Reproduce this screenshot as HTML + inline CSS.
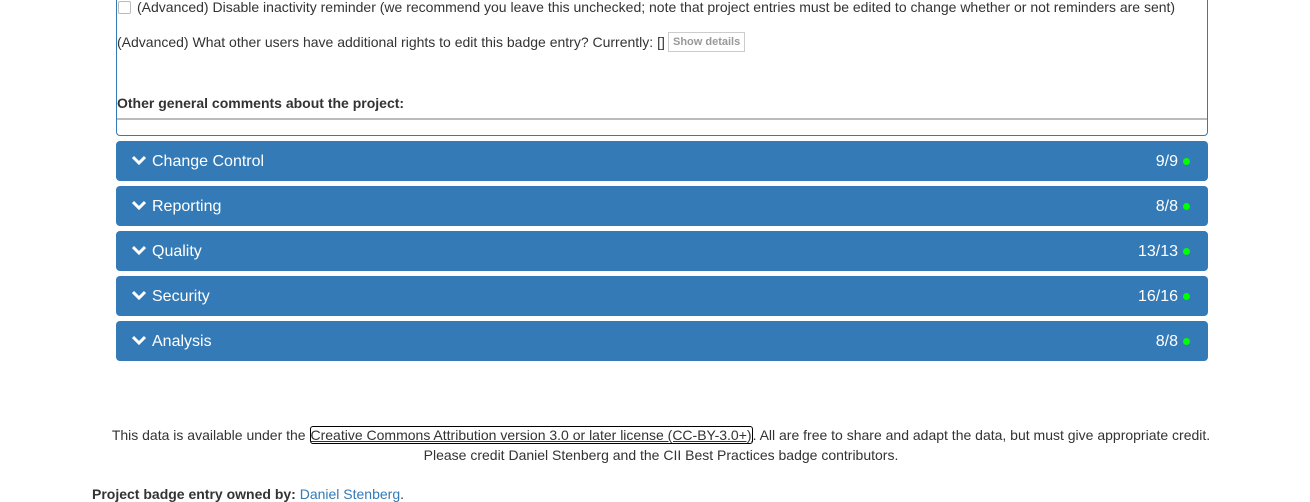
<!DOCTYPE html>
<html><head><meta charset="utf-8"><style>
body{margin:0;width:1310px;height:500px;overflow:hidden;background:#fff;font-family:"Liberation Sans",sans-serif;color:#333;font-size:14px;position:relative}
.abs{position:absolute;white-space:nowrap}
.box{position:absolute;left:116px;top:-10px;width:1090px;height:145px;border:1px solid #337ab7;border-top:none;border-radius:0 0 4px 4px}
.panel{position:absolute;left:116px;width:1092px;height:40px;background:#337ab7;border-radius:4px;color:#fff;font-size:16px}
.panel .t{position:absolute;left:36px;top:12px}
.panel .chev{position:absolute;left:16px;top:14px}
.panel .s{position:absolute;right:30px;top:12px}
.panel .d{position:absolute;right:18px;top:17px;width:7px;height:7px;border-radius:50%;background:#0f0}
</style></head><body>
<div class="box"></div>
<div class="abs" style="left:118px;top:1px;width:11px;height:11px;border:1px solid #bbb;border-radius:2px"></div>
<div class="abs" style="left:137px;top:-1px">(Advanced) Disable inactivity reminder (we recommend you leave this unchecked; note that project entries must be edited to change whether or not reminders are sent)</div>
<div class="abs" style="left:117px;top:34px">(Advanced) What other users have additional rights to edit this badge entry? Currently: []</div>
<div class="abs" style="left:668px;top:32px;border:1px solid #ccc;padding:3px 4px;font-size:11px;font-weight:bold;color:#999">Show details</div>
<div class="abs" style="left:117px;top:95px;font-weight:bold">Other general comments about the project:</div>
<div class="abs" style="left:117px;top:118px;width:1090px;height:2px;background:#bbb"></div>

<div class="panel" style="top:141px"><svg class="chev" width="14" height="10" viewBox="0 0 14 10"><path d="M1 2 L7 8 L13 2" stroke="#fff" stroke-width="3" fill="none"/></svg><span class="t">Change Control</span><span class="s">9/9</span><span class="d"></span></div>
<div class="panel" style="top:186px"><svg class="chev" width="14" height="10" viewBox="0 0 14 10"><path d="M1 2 L7 8 L13 2" stroke="#fff" stroke-width="3" fill="none"/></svg><span class="t">Reporting</span><span class="s">8/8</span><span class="d"></span></div>
<div class="panel" style="top:231px"><svg class="chev" width="14" height="10" viewBox="0 0 14 10"><path d="M1 2 L7 8 L13 2" stroke="#fff" stroke-width="3" fill="none"/></svg><span class="t">Quality</span><span class="s">13/13</span><span class="d"></span></div>
<div class="panel" style="top:276px"><svg class="chev" width="14" height="10" viewBox="0 0 14 10"><path d="M1 2 L7 8 L13 2" stroke="#fff" stroke-width="3" fill="none"/></svg><span class="t">Security</span><span class="s">16/16</span><span class="d"></span></div>
<div class="panel" style="top:321px"><svg class="chev" width="14" height="10" viewBox="0 0 14 10"><path d="M1 2 L7 8 L13 2" stroke="#fff" stroke-width="3" fill="none"/></svg><span class="t">Analysis</span><span class="s">8/8</span><span class="d"></span></div>

<div class="abs" style="left:0;width:1322px;text-align:center;top:425px;line-height:20px">This data is available under the <span style="border:1px solid #000;border-radius:3px;text-decoration:underline;color:#333">Creative Commons Attribution version 3.0 or later license (CC-BY-3.0+)</span>. All are free to share and adapt the data, but must give appropriate credit.<br>Please credit Daniel Stenberg and the CII Best Practices badge contributors.</div>
<div class="abs" style="left:92px;top:486px"><b>Project badge entry owned by:</b> <span style="color:#337ab7">Daniel Stenberg</span>.</div>
</body></html>
